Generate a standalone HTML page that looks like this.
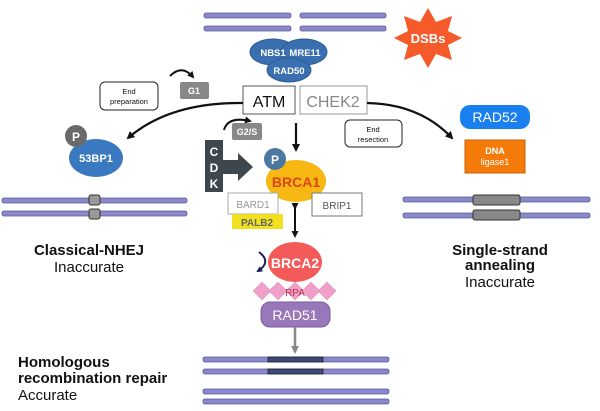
<!DOCTYPE html>
<html><head><style>
body{margin:0;background:#fff;}
svg{display:block;font-family:"Liberation Sans",sans-serif;}
</style></head><body>
<svg width="600" height="411" viewBox="0 0 600 411">
<defs>
<marker id="ah" markerWidth="8" markerHeight="8" refX="6" refY="4" orient="auto" markerUnits="userSpaceOnUse"><path d="M0,0 L8,4 L0,8 Z" fill="#111"/></marker>
<marker id="ahs" markerWidth="7" markerHeight="7" refX="5" refY="3.5" orient="auto" markerUnits="userSpaceOnUse"><path d="M0,0 L7,3.5 L0,7 Z" fill="#111"/></marker>
<marker id="ahg" markerWidth="8" markerHeight="8" refX="6" refY="4" orient="auto" markerUnits="userSpaceOnUse"><path d="M0,0 L8,4 L0,8 Z" fill="#888"/></marker>
<marker id="ahn" markerWidth="6" markerHeight="6" refX="4" refY="3" orient="auto" markerUnits="userSpaceOnUse"><path d="M0,0 L6,3 L0,6 Z" fill="#1a1a5a"/></marker>
</defs>
<g fill="#8a88c8" stroke="#5a58a0" stroke-width="0.8">
<rect x="204" y="13" width="87" height="5" rx="2"/><rect x="300" y="13" width="86" height="5" rx="2"/>
<rect x="204" y="26" width="87" height="5" rx="2"/><rect x="300" y="26" width="86" height="5" rx="2"/>
<rect x="2" y="198" width="185" height="5" rx="2"/><rect x="2" y="211" width="185" height="5" rx="2"/>
<rect x="403" y="197" width="187" height="5" rx="2"/><rect x="403" y="213" width="187" height="5" rx="2"/>
<rect x="203" y="357" width="186" height="5" rx="2"/><rect x="203" y="369" width="186" height="5" rx="2"/>
<rect x="203" y="389" width="186" height="5" rx="2"/><rect x="203" y="399" width="186" height="5" rx="2"/>
</g>
<rect x="268" y="357" width="55" height="5" fill="#3a4a78" stroke="#222" stroke-width="0.8"/>
<rect x="268" y="369" width="55" height="5" fill="#3a4a78" stroke="#222" stroke-width="0.8"/>
<rect x="89" y="195" width="11" height="10" rx="2" fill="#999" stroke="#333"/>
<rect x="89" y="209" width="11" height="10" rx="2" fill="#999" stroke="#333"/>
<rect x="473" y="195" width="47" height="10" rx="2" fill="#888" stroke="#333"/>
<rect x="473" y="210" width="47" height="10" rx="2" fill="#888" stroke="#333"/>

<polygon points="428,8 436,22 452,16 448,31 462,38 448,45 452,60 436,54 428,68 420,54 404,60 408,45 394,38 408,31 404,16 420,22" fill="#f45a2a"/>
<text x="428" y="43" font-size="13" font-weight="bold" fill="#fff" text-anchor="middle">DSBs</text>

<g fill="#3a6fb0" stroke="#2a5a98">
<ellipse cx="273" cy="52" rx="23" ry="13"/><ellipse cx="304" cy="52" rx="23" ry="13"/><ellipse cx="289" cy="70" rx="22" ry="12"/>
</g>
<g font-size="9.5" font-weight="bold" fill="#fff" text-anchor="middle">
<text x="273" y="56">NBS1</text><text x="305" y="56">MRE11</text><text x="289" y="74">RAD50</text></g>

<rect x="243" y="86" width="52" height="28" fill="#fff" stroke="#555"/>
<text x="269" y="107" font-size="16" text-anchor="middle" fill="#111">ATM</text>
<rect x="300" y="86" width="67" height="28" fill="#fff" stroke="#999"/>
<text x="333" y="107" font-size="16" text-anchor="middle" fill="#888">CHEK2</text>

<rect x="180" y="82" width="29" height="17" rx="2" fill="#888"/>
<text x="194" y="94" font-size="9" font-weight="bold" fill="#fff" text-anchor="middle">G1</text>
<path d="M170,76 Q182,64 193,77" fill="none" stroke="#111" stroke-width="2" marker-end="url(#ahs)"/>
<rect x="100" y="82" width="58" height="28" rx="5" fill="#fff" stroke="#222"/>
<text x="129" y="94" font-size="7.5" text-anchor="middle" fill="#111">End</text>
<text x="129" y="104" font-size="7.5" text-anchor="middle" fill="#111">preparation</text>

<path d="M243,103 Q170,102 128,138" fill="none" stroke="#111" stroke-width="2.2" marker-end="url(#ah)"/>
<path d="M367,103 Q420,104 452,138" fill="none" stroke="#111" stroke-width="2.2" marker-end="url(#ah)"/>

<ellipse cx="96" cy="158" rx="27" ry="19" fill="#3a78c0"/>
<text x="96" y="162" font-size="11" font-weight="bold" fill="#fff" text-anchor="middle">53BP1</text>
<circle cx="76" cy="136" r="11" fill="#6a6a6a"/>
<text x="76" y="141" font-size="12" font-weight="bold" fill="#fff" text-anchor="middle">P</text>

<rect x="232" y="123" width="30" height="17" rx="2" fill="#888"/>
<text x="247" y="135" font-size="9" font-weight="bold" fill="#fff" text-anchor="middle">G2/S</text>
<path d="M224,130 Q228,116 250,121" fill="none" stroke="#111" stroke-width="2" marker-end="url(#ahs)"/>

<rect x="345" y="120" width="57" height="27" rx="5" fill="#fff" stroke="#222"/>
<text x="373" y="132" font-size="7.5" text-anchor="middle" fill="#111">End</text>
<text x="373" y="142" font-size="7.5" text-anchor="middle" fill="#111">resection</text>

<rect x="205" y="140" width="18" height="52" fill="#3e464e"/>
<g font-size="12" font-weight="bold" fill="#fff" text-anchor="middle"><text x="214" y="156">C</text><text x="214" y="172">D</text><text x="214" y="188">K</text></g>
<polygon points="223,160 238,160 238,153 253,167 238,181 238,174 223,174" fill="#3e464e"/>

<line x1="296" y1="123" x2="296" y2="150" stroke="#111" stroke-width="2.2" marker-end="url(#ah)"/>

<ellipse cx="296" cy="181" rx="30" ry="21" fill="#f8b814"/>
<text x="296" y="187" font-size="14" font-weight="bold" fill="#d8461a" text-anchor="middle">BRCA1</text>
<circle cx="275" cy="159" r="11" fill="#4a78a0"/>
<text x="275" y="164" font-size="12" font-weight="bold" fill="#fff" text-anchor="middle">P</text>

<rect x="228" y="193" width="50" height="21" fill="#fff" stroke="#aaa"/>
<text x="253" y="208" font-size="10" fill="#999" text-anchor="middle">BARD1</text>
<rect x="232" y="214" width="51" height="15" fill="#f0e020"/>
<text x="257" y="226" font-size="10" font-weight="bold" fill="#666" text-anchor="middle">PALB2</text>
<rect x="312" y="193" width="50" height="23" fill="#fff" stroke="#777"/>
<text x="337" y="209" font-size="10" fill="#555" text-anchor="middle">BRIP1</text>

<line x1="295" y1="208" x2="295" y2="236" stroke="#111" stroke-width="2" marker-end="url(#ahs)" marker-start="url(#ahs)"/>

<ellipse cx="295" cy="262" rx="27" ry="20" fill="#f45a5a"/>
<text x="295" y="268" font-size="14" font-weight="bold" fill="#fff" text-anchor="middle">BRCA2</text>
<path d="M259,252 Q272,262 258,271" fill="none" stroke="#1a1a5a" stroke-width="2" marker-end="url(#ahn)"/>

<g fill="#f0a0c8" stroke="#e080b0" stroke-width="0.5">
<polygon points="262,282 271,291 262,300 253,291"/>
<polygon points="278,282 287,291 278,300 269,291"/>
<polygon points="295,282 304,291 295,300 286,291"/>
<polygon points="311,282 320,291 311,300 302,291"/>
<polygon points="327,282 336,291 327,300 318,291"/>
</g>
<text x="295" y="296" font-size="10" fill="#c03050" text-anchor="middle">RPA</text>

<rect x="261" y="302" width="69" height="25" rx="9" fill="#9878b8" stroke="#7a5a9a"/>
<text x="295" y="320" font-size="14" fill="#fff" text-anchor="middle">RAD51</text>
<line x1="295" y1="327" x2="295" y2="352" stroke="#888" stroke-width="2.5" marker-end="url(#ahg)"/>

<rect x="460" y="105" width="70" height="24" rx="10" fill="#1a80f0"/>
<text x="495" y="122" font-size="14" fill="#fff" text-anchor="middle">RAD52</text>
<rect x="465" y="140" width="60" height="33" fill="#f47a0a" stroke="#c86000"/>
<text x="495" y="154" font-size="9" font-weight="bold" fill="#fff" text-anchor="middle">DNA</text>
<text x="495" y="165" font-size="9" fill="#fff" text-anchor="middle">ligase1</text>

<text x="89" y="255" font-size="15" font-weight="bold" fill="#111" text-anchor="middle">Classical-NHEJ</text>
<text x="89" y="272" font-size="15" fill="#111" text-anchor="middle">Inaccurate</text>
<text x="500" y="255" font-size="15" font-weight="bold" fill="#111" text-anchor="middle">Single-strand</text>
<text x="500" y="270" font-size="15" font-weight="bold" fill="#111" text-anchor="middle">annealing</text>
<text x="500" y="287" font-size="15" fill="#111" text-anchor="middle">Inaccurate</text>
<text x="18" y="367" font-size="15" font-weight="bold" fill="#111">Homologous</text>
<text x="18" y="383" font-size="15" font-weight="bold" fill="#111">recombination repair</text>
<text x="18" y="400" font-size="15" fill="#111">Accurate</text>
</svg>
</body></html>
